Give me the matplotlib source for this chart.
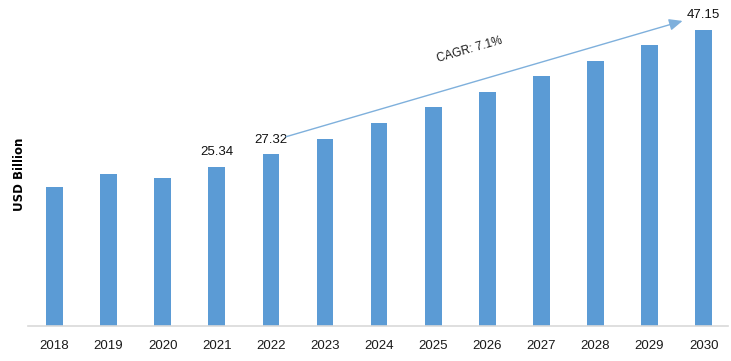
"""
USD Billion bar chart 2018-2030 with CAGR arrow
"""
import matplotlib
matplotlib.use("Agg")
import matplotlib.pyplot as plt

plt.rcParams["font.family"] = ["Liberation Sans", "DejaVu Sans"]

# data
years = ["2018", "2019", "2020", "2021", "2022", "2023", "2024",
         "2025", "2026", "2027", "2028", "2029", "2030"]
values = [22.17, 24.14, 23.50, 25.34, 27.32, 29.81, 32.26,
          34.80, 37.29, 39.73, 42.22, 44.67, 47.15]
labelled = {"2021": "25.34", "2022": "27.32", "2030": "47.15"}
cagr_text = "CAGR: 7.1%"

W, H = 731, 361
fig = plt.figure(figsize=(W / 100, H / 100), dpi=100)
ax = fig.add_axes((28 / W, 35 / H, 700 / W, 326 / H))

x = list(range(len(years)))
ax.bar(x, values, width=0.31, color="#5b9bd5")

ax.set_xlim(-0.49, 12.45)
ax.set_ylim(0, 51.88)
ax.set_yticks([])
ax.set_xticks(x)
ax.set_xticklabels(years, fontsize=9.5, color="#1a1a1a")
ax.tick_params(axis="x", length=0, pad=10)
for s in ["top", "right", "left"]:
    ax.spines[s].set_visible(False)
ax.spines["bottom"].set_color("#d9d9d9")
ax.spines["bottom"].set_linewidth(1.2)

# value labels
for i, yr in enumerate(years):
    if yr in labelled:
        ax.text(i, values[i] + 1.4, labelled[yr], ha="center", va="bottom",
                fontsize=9.5, color="#111111")

# CAGR arrow from 2022 label to 2030 label
i0, i1 = years.index("2022"), years.index("2030")
ax.annotate("", xy=(i1 - 0.39, values[i1] + 1.4), xytext=(i0 + 0.28, values[i0] + 2.8),
            arrowprops=dict(arrowstyle="-|>,head_length=0.8,head_width=0.35",
                            color="#7fb0dc", lw=1.0, shrinkA=0, shrinkB=0),
            annotation_clip=False)
ax.text(7.68, 44.0, cagr_text, rotation=16, ha="center", va="center",
        fontsize=8.5, color="#1a1a1a")

fig.text(20 / W, 1 - 174 / H, "USD Billion", rotation=90, ha="center", va="center",
         fontsize=8.5, fontweight="bold", family=["DejaVu Sans"])

fig.savefig("out.png", dpi=100)
